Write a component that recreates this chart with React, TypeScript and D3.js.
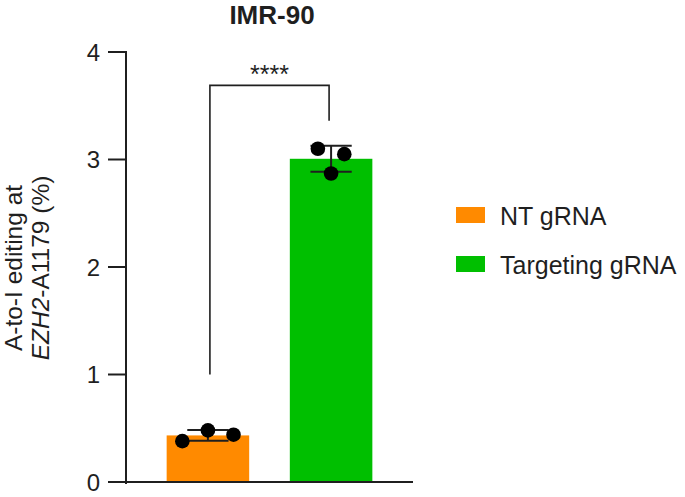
import React from "react";
import * as d3 from "d3";

const groups = ["NT gRNA", "Targeting gRNA"];
const groupColors = ["#FF8A00", "#00BF00"];
const replicates = [
  [0.38, 0.48, 0.44],
  [3.1, 3.05, 2.87],
];
// horizontal spread of the replicate dots, as a share of bar width
const jitter = [
  [-0.31, 0, 0.31],
  [-0.16, 0.16, 0],
];
const yTicks = [0, 1, 2, 3, 4];
const bracket = { top: 3.69, left: 1.0, right: 3.36, label: "****" };

const font = "'Liberation Sans', Arial, sans-serif";
const ink = "#1f1f1f";

export default function App() {
  const width = 685;
  const height = 497;

  const x = d3
    .scaleBand<string>()
    .domain(groups)
    .range([126, 413])
    .paddingInner(0.33)
    .paddingOuter(0.33);
  const y = d3.scaleLinear().domain([0, 4]).range([482, 52]);
  const bw = x.bandwidth();

  const stats = replicates.map((vals) => ({
    mean: d3.mean(vals) as number,
    sd: d3.deviation(vals) as number,
  }));

  const cx = (g: string) => (x(g) as number) + bw / 2;

  return (
    <svg
      width={width}
      height={height}
      style={{ position: "absolute", top: 0, left: 0, background: "#fff" }}
      fontFamily={font}
    >
      {/* title */}
      <text x={272} y={24} textAnchor="middle" fontSize={26} fontWeight="bold" fill={ink}>
        IMR-90
      </text>

      {/* bars */}
      {groups.map((g, i) => (
        <rect
          key={g}
          x={x(g)}
          y={y(stats[i].mean)}
          width={bw}
          height={y(0) - y(stats[i].mean)}
          fill={groupColors[i]}
        />
      ))}

      {/* error bars */}
      {groups.map((g, i) => {
        const { mean, sd } = stats[i];
        const c = cx(g);
        return (
          <g key={`e-${g}`} stroke={ink} strokeWidth={2}>
            <line x1={c} x2={c} y1={y(mean + sd)} y2={y(mean - sd)} />
            <line x1={c - bw / 4} x2={c + bw / 4} y1={y(mean + sd)} y2={y(mean + sd)} />
            <line x1={c - bw / 4} x2={c + bw / 4} y1={y(mean - sd)} y2={y(mean - sd)} />
          </g>
        );
      })}

      {/* replicate dots */}
      {groups.map((g, i) =>
        replicates[i].map((v, j) => (
          <circle
            key={`p-${g}-${j}`}
            cx={cx(g) + jitter[i][j] * bw}
            cy={y(v)}
            r={7.3}
            fill="#000"
          />
        ))
      )}

      {/* significance bracket */}
      <path
        d={`M${cx(groups[0]) + 2},${y(bracket.left)}V${y(bracket.top)}H${cx(groups[1]) - 2}V${y(
          bracket.right
        )}`}
        fill="none"
        stroke={ink}
        strokeWidth={1.6}
      />
      <text
        x={(cx(groups[0]) + cx(groups[1])) / 2}
        y={y(bracket.top) - 2}
        textAnchor="middle"
        fontSize={25}
        fill={ink}
      >
        {bracket.label}
      </text>

      {/* axes */}
      <g stroke={ink} strokeWidth={2}>
        <line x1={126} x2={126} y1={y(4) - 1} y2={y(0) + 2} />
        <line x1={125} x2={413} y1={y(0)} y2={y(0)} />
        {yTicks.map((t) => (
          <line key={`t-${t}`} x1={108} x2={126} y1={y(t)} y2={y(t)} />
        ))}
      </g>
      {yTicks.map((t) => (
        <text
          key={`l-${t}`}
          x={100}
          y={y(t)}
          dy="0.36em"
          textAnchor="end"
          fontSize={24}
          fill={ink}
        >
          {t}
        </text>
      ))}

      {/* y label */}
      <g transform="translate(2,268) rotate(-90)" fill={ink} fontSize={24.5}>
        <text x={0} y={20} textAnchor="middle">
          A-to-I editing at
        </text>
        <text x={0} y={47} textAnchor="middle">
          <tspan fontStyle="italic">EZH2</tspan>-A1179 (%)
        </text>
      </g>

      {/* legend */}
      {groups.map((g, i) => (
        <g key={`lg-${g}`} transform={`translate(456,${207 + i * 49})`}>
          <rect width={29} height={16} fill={groupColors[i]} />
          <text x={44} y={18} fontSize={25} fill={ink}>
            {g}
          </text>
        </g>
      ))}
    </svg>
  );
}
